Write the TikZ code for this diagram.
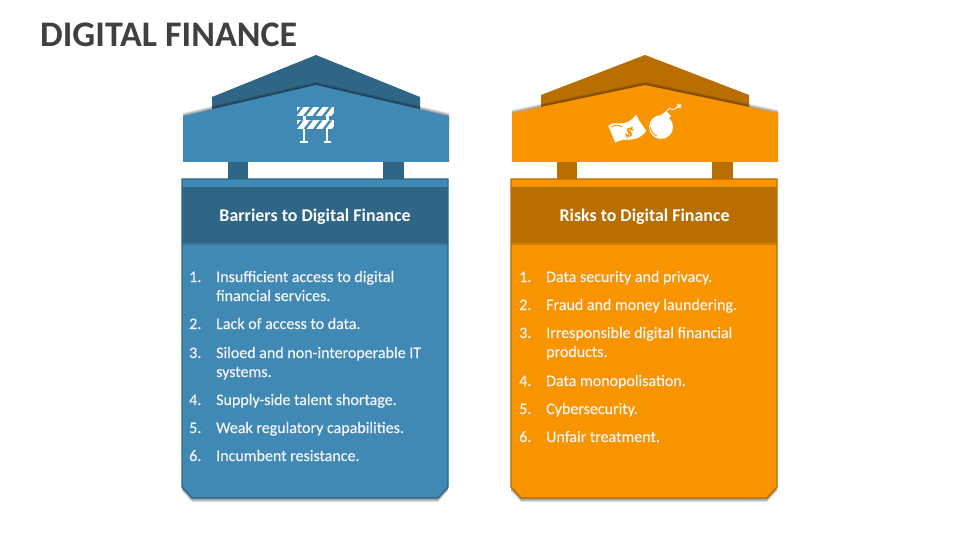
\documentclass[tikz,border=0pt]{standalone}
\usepackage{fontspec}
\setmainfont{Carlito}
\newfontfamily\itemfont[FakeBold=0.25]{Carlito}
\definecolor{bluelight}{HTML}{4189B5}
\definecolor{bluedark}{HTML}{2F6585}
\definecolor{orangelight}{HTML}{F79400}
\definecolor{orangedark}{HTML}{B86E00}
\tikzstyle{title}=[font=\fontsize{36}{40}\selectfont\bfseries,text=black!75,inner sep=0pt,anchor=west]
\tikzstyle{heading}=[font=\fontsize{17.9}{20}\selectfont\bfseries,text=white,inner sep=0pt]
\tikzstyle{item}=[font=\fontsize{16}{19}\selectfont\itemfont,text=white!96!black,inner sep=0pt,anchor=north west,align=left]
\tikzstyle{softshade}=[fill=black,opacity=.13,draw=none]
\newcommand{\tablet}[4]{% x offset, shoulder y, back roof y, colours
  \begin{scope}[xshift=#1pt]
    % back roof
    \fill[#4dark] (212,#3)--(316,55)--(420,#3)--(420,110)--(212,110)--cycle;
    \foreach \d in {1,2,3}
      \fill[softshade,yshift=\d pt] (183,#2)--(316,85)--(449,#2)--(449,130)--(183,130)--cycle;
    % front roof
    \fill[#4light] (183,#2)--(316,85)--(449,#2)--(449,162)--(183,162)--cycle;
    % legs
    \fill[#4dark] (228,162) rectangle (248,179);
    \fill[#4dark] (383,162) rectangle (404,179);
    % body
    \foreach \d in {1,2,3,4}
      \fill[softshade,yshift=-\d pt] (182,400)--(182,487)--(192,498)--(438,498)--(448,487)--(448,400)--cycle;
    \draw[#4dark,fill=#4light,line width=1.3pt] (182,179)--(182,487)--(192,498)--(438,498)--(448,487)--(448,179)--cycle;
    \fill[#4dark] (182,187) rectangle (448,243);
    \fill[black,opacity=.15] (182,242.5) rectangle (448,245);
  \end{scope}}
\begin{document}
\begin{tikzpicture}[x=1pt,y=-1pt]
  \useasboundingbox (0,0) rectangle (960,540);
  \fill[white] (0,0) rectangle (960,540);

  \node[title] (pagetitle) at (40,35) {DIGITAL FINANCE};

  \tablet{0}{116}{97}{blue}
  \tablet{329}{113}{95}{orange}

  \node[heading] (barriershead) at (315,217) {Barriers to Digital Finance};
  \node[heading] (riskshead) at (644.5,217) {Risks to Digital Finance};

  % left list
  \foreach \n/\y/\t in {1/268.5/{Insufficient access to digital\\financial services.},
      2/315.5/{Lack of access to data.},
      3/344.5/{Siloed and non-interoperable IT\\systems.},
      4/391.5/{Supply-side talent shortage.},
      5/419.5/{Weak regulatory capabilities.},
      6/447.5/{Incumbent resistance.}}{
    \node[item] (barriernum\n) at (189,\y) {\strut\n.};
    \node[item] (barrier\n) at (216,\y) {\strut\t};
  }

  % right list
  \foreach \n/\y/\t in {1/268.5/{Data security and privacy.},
      2/296.5/{Fraud and money laundering.},
      3/324.5/{Irresponsible digital financial\\products.},
      4/372.5/{Data monopolisation.},
      5/400.5/{Cybersecurity.},
      6/428.5/{Unfair treatment.}}{
    \node[item] (risknum\n) at (519,\y) {\strut\n.};
    \node[item] (risk\n) at (546,\y) {\strut\t};
  }

  % barrier icon
  \foreach \y in {107,120.5}{
    \begin{scope}
      \clip (297,\y) rectangle (334,\y+9);
      \fill[white] (297,\y) rectangle (334,\y+9);
      \foreach \x in {297,306.5,316,325.5,335}
        \fill[bluelight] (\x-3.5,\y+9)--(\x-.5,\y+9)--(\x+6.5,\y)--(\x+3.5,\y)--cycle;
    \end{scope}
  }
  \fill[white] (303,116) rectangle (306,120.5);
  \fill[white] (325.5,116) rectangle (328.5,120.5);
  \fill[white] (302.5,129.5) rectangle (305,141);
  \fill[white] (325.5,129.5) rectangle (328,141);
  \fill[white] (300,141) rectangle (307.5,143);
  \fill[white] (323.5,141) rectangle (330.5,143);

  % bomb and bank note icon
  \fill[white] (661,127) circle (12);
  \fill[white] (660,116) -- (666,111) -- (671,116) -- (667,120) -- cycle;
  \draw[orangelight,line width=.9pt,line cap=round] (650.5,127) arc (180:110:9.5);
  \draw[white,line width=.9pt] (667,111) .. controls (669,106) and (672,111) .. (675,109) .. controls (676,108) .. (677,107);
  \fill[white] (679,106) circle (1.6);
  \draw[white,line width=.6pt] (676.5,106)--(681.5,106) (679,103.5)--(679,108.5) (677.3,104.3)--(680.7,107.7) (680.7,104.3)--(677.3,107.7);
  \fill[white,draw=orangelight,line width=1pt] (607.5,125.5) .. controls (616,118) and (624,130) .. (636,113.5)
    -- (647,131) .. controls (636,146) and (626,136) .. (615,143.5) -- cycle;
  \draw[orangelight,line width=.9pt] (612,127) .. controls (615,124) and (619,125) .. (622,127);
  \draw[orangelight,line width=.9pt] (638.5,118.5)--(646,129);
  \node[font=\fontsize{17}{17}\selectfont\bfseries,text=orangelight,inner sep=0pt,rotate=-20] (dollarsign) at (629.5,132.5) {\$};
\end{tikzpicture}
\end{document}
